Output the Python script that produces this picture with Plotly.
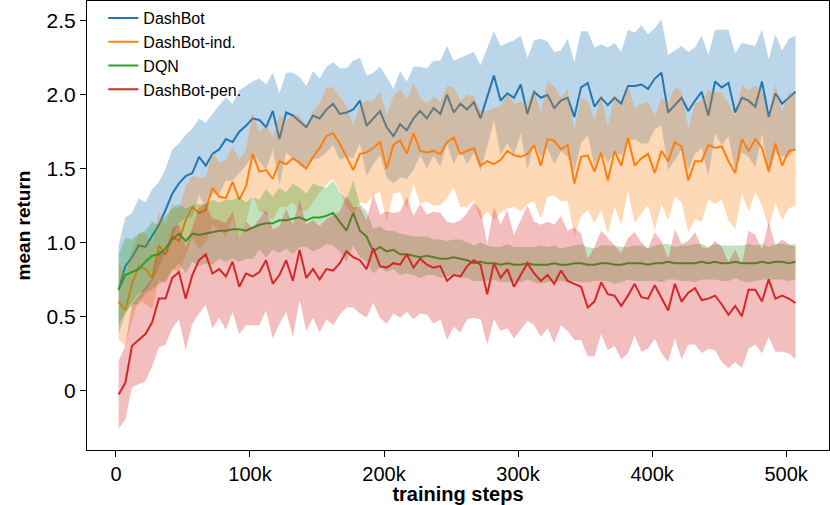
import plotly.graph_objects as go

# training steps (every 5k, from 2k to 507k)
steps = list(range(2000, 507001, 5000))

dashbot_mean = [
    0.68, 0.84, 0.90, 0.98, 0.97, 1.05, 1.12, 1.22, 1.33, 1.40,
    1.45, 1.47, 1.58, 1.52, 1.60, 1.63, 1.70, 1.68, 1.75, 1.79,
    1.84, 1.83, 1.78, 1.89, 1.70, 1.88, 1.86, 1.82, 1.78, 1.86,
    1.84, 1.90, 1.94, 1.87, 1.88, 1.90, 1.96, 1.79, 1.84, 1.89,
    1.78, 1.72, 1.80, 1.76, 1.84, 1.89, 1.84, 1.91, 1.87, 2.00,
    1.88, 1.94, 1.90, 1.95, 1.84, 1.98, 2.13, 1.96, 2.01, 1.98,
    2.07, 1.87, 2.02, 1.98, 2.00, 1.91, 1.96, 1.98, 1.85, 2.05,
    2.08, 1.92, 1.98, 1.93, 1.98, 1.94, 2.06, 2.06, 2.07, 2.04,
    2.11, 2.15, 1.88, 1.93, 1.98, 1.89, 1.96, 2.02, 1.86, 2.09,
    2.05, 2.08, 1.88, 1.98, 1.96, 1.92, 2.09, 1.85, 2.01, 1.94,
    1.98, 2.02,
]
dashbot_sd = [
    0.30, 0.33, 0.30, 0.32, 0.30, 0.31, 0.29, 0.28, 0.30, 0.27,
    0.28, 0.30, 0.26, 0.29, 0.27, 0.30, 0.28, 0.26, 0.28, 0.27,
    0.25, 0.28, 0.29, 0.26, 0.31, 0.27, 0.29, 0.30, 0.28, 0.30,
    0.27, 0.29, 0.28, 0.31, 0.30, 0.33, 0.29, 0.34, 0.31, 0.30,
    0.34, 0.32, 0.36, 0.33, 0.35, 0.30, 0.34, 0.32, 0.36, 0.33,
    0.35, 0.31, 0.37, 0.34, 0.36, 0.33, 0.30, 0.37, 0.34, 0.39,
    0.33, 0.38, 0.35, 0.40, 0.36, 0.38, 0.34, 0.40, 0.37, 0.38,
    0.35, 0.40, 0.36, 0.39, 0.37, 0.35, 0.38, 0.36, 0.40, 0.37,
    0.34, 0.36, 0.39, 0.37, 0.35, 0.40, 0.36, 0.38, 0.41, 0.35,
    0.39, 0.36, 0.40, 0.37, 0.38, 0.41, 0.35, 0.39, 0.40, 0.36,
    0.40, 0.38,
]

ind_mean = [
    0.60, 0.54, 0.72, 0.84, 0.82, 0.76, 0.98, 0.92, 1.04, 1.01,
    1.15, 1.24, 1.20, 1.22, 1.37, 1.31, 1.30, 1.41, 1.29, 1.38,
    1.60, 1.48, 1.49, 1.43, 1.55, 1.53, 1.57, 1.54, 1.50, 1.58,
    1.64, 1.72, 1.74, 1.67, 1.58, 1.49, 1.60, 1.61, 1.64, 1.68,
    1.50, 1.66, 1.69, 1.60, 1.74, 1.62, 1.61, 1.62, 1.60, 1.68,
    1.71, 1.60, 1.62, 1.64, 1.52, 1.55, 1.53, 1.56, 1.62, 1.59,
    1.58, 1.60, 1.66, 1.52, 1.70, 1.69, 1.63, 1.66, 1.40, 1.58,
    1.59, 1.48, 1.61, 1.42, 1.62, 1.52, 1.71, 1.52, 1.57, 1.60,
    1.47, 1.62, 1.55, 1.68, 1.65, 1.42, 1.55, 1.55, 1.66, 1.64,
    1.65, 1.55, 1.47, 1.70, 1.62, 1.70, 1.64, 1.48, 1.67, 1.52,
    1.62, 1.63,
]
ind_sd = [
    0.26, 0.24, 0.25, 0.22, 0.24, 0.21, 0.23, 0.20, 0.22, 0.21,
    0.23, 0.21, 0.24, 0.22, 0.25, 0.23, 0.26, 0.24, 0.27, 0.25,
    0.28, 0.27, 0.30, 0.28, 0.31, 0.29, 0.30, 0.32, 0.29, 0.31,
    0.30, 0.33, 0.31, 0.32, 0.34, 0.30, 0.33, 0.35, 0.32, 0.34,
    0.36, 0.33, 0.35, 0.37, 0.34, 0.36, 0.33, 0.37, 0.35, 0.38,
    0.34, 0.36, 0.38, 0.35, 0.37, 0.34, 0.38, 0.36, 0.39, 0.35,
    0.37, 0.34, 0.38, 0.36, 0.39, 0.37, 0.35, 0.38, 0.36, 0.40,
    0.37, 0.35, 0.39, 0.36, 0.38, 0.40, 0.36, 0.39, 0.37, 0.35,
    0.39, 0.36, 0.40, 0.37, 0.38, 0.35, 0.39, 0.41, 0.37, 0.38,
    0.36, 0.40, 0.38, 0.37, 0.41, 0.36, 0.39, 0.38, 0.40, 0.37,
    0.39, 0.38,
]

dqn_mean = [
    0.68, 0.78, 0.80, 0.82, 0.87, 0.91, 0.92, 0.96, 1.02, 1.06,
    1.01, 1.06, 1.05, 1.06, 1.07, 1.08, 1.08, 1.09, 1.09, 1.08,
    1.10, 1.12, 1.13, 1.13, 1.15, 1.15, 1.16, 1.17, 1.15, 1.17,
    1.17, 1.18, 1.20, 1.14, 1.08, 1.20, 1.08, 1.04, 0.94, 0.97,
    0.94, 0.95, 0.92, 0.92, 0.91, 0.90, 0.91, 0.90, 0.89, 0.89,
    0.90, 0.89, 0.88, 0.86, 0.87, 0.86, 0.86, 0.85, 0.86, 0.85,
    0.85, 0.86, 0.85, 0.85, 0.85, 0.86, 0.85, 0.85, 0.86, 0.86,
    0.85, 0.85, 0.86, 0.86, 0.85, 0.85, 0.86, 0.86, 0.86, 0.85,
    0.86, 0.86, 0.87, 0.86, 0.86, 0.86, 0.86, 0.87, 0.86, 0.87,
    0.86, 0.86, 0.87, 0.86, 0.86, 0.86, 0.87, 0.86, 0.87, 0.87,
    0.86, 0.87,
]
dqn_sd = [
    0.24, 0.25, 0.22, 0.24, 0.21, 0.23, 0.20, 0.22, 0.21, 0.20,
    0.22, 0.19, 0.21, 0.20, 0.22, 0.19, 0.21, 0.20, 0.22, 0.19,
    0.21, 0.17, 0.23, 0.18, 0.22, 0.19, 0.24, 0.20, 0.18, 0.23,
    0.21, 0.19, 0.22, 0.20, 0.21, 0.22, 0.18, 0.17, 0.15, 0.14,
    0.14, 0.13, 0.14, 0.13, 0.13, 0.14, 0.13, 0.12, 0.13, 0.12,
    0.12, 0.13, 0.12, 0.12, 0.13, 0.12, 0.11, 0.12, 0.13, 0.12,
    0.12, 0.11, 0.12, 0.13, 0.12, 0.12, 0.11, 0.12, 0.12, 0.13,
    0.12, 0.11, 0.12, 0.12, 0.13, 0.12, 0.11, 0.12, 0.12, 0.11,
    0.12, 0.13, 0.12, 0.11, 0.12, 0.12, 0.13, 0.12, 0.11, 0.12,
    0.12, 0.12, 0.11, 0.12, 0.13, 0.12, 0.12, 0.11, 0.12, 0.12,
    0.12, 0.12,
]

pen_mean = [
    -0.03, 0.05, 0.30, 0.34, 0.38, 0.46, 0.62, 0.62, 0.76, 0.80,
    0.62, 0.78, 0.88, 0.92, 0.79, 0.82, 0.77, 0.87, 0.70, 0.79,
    0.77, 0.80, 0.88, 0.72, 0.78, 0.88, 0.74, 0.95, 0.76, 0.82,
    0.75, 0.82, 0.81, 0.86, 0.94, 0.90, 0.88, 0.82, 0.96, 0.84,
    0.83, 0.86, 0.85, 0.92, 0.83, 0.89, 0.85, 0.83, 0.84, 0.74,
    0.78, 0.77, 0.84, 0.88, 0.85, 0.65, 0.86, 0.76, 0.82, 0.70,
    0.78, 0.86, 0.79, 0.74, 0.78, 0.72, 0.81, 0.74, 0.72, 0.70,
    0.56, 0.60, 0.73, 0.65, 0.64, 0.57, 0.64, 0.72, 0.63, 0.62,
    0.71, 0.63, 0.54, 0.72, 0.60, 0.66, 0.69, 0.61, 0.62, 0.64,
    0.58, 0.51, 0.57, 0.50, 0.68, 0.68, 0.60, 0.75, 0.62, 0.64,
    0.62, 0.59,
]
pen_sd = [
    0.23, 0.25, 0.28, 0.30, 0.32, 0.30, 0.33, 0.31, 0.34, 0.32,
    0.35, 0.33, 0.36, 0.34, 0.37, 0.33, 0.36, 0.34, 0.32, 0.35,
    0.33, 0.36, 0.34, 0.37, 0.33, 0.35, 0.38, 0.34, 0.36, 0.33,
    0.36, 0.34, 0.37, 0.35, 0.38, 0.34, 0.36, 0.33, 0.37, 0.35,
    0.38, 0.34, 0.36, 0.39, 0.35, 0.37, 0.34, 0.38, 0.36, 0.40,
    0.35, 0.38, 0.36, 0.39, 0.37, 0.34, 0.38, 0.36, 0.40, 0.35,
    0.37, 0.39, 0.35, 0.38, 0.36, 0.40, 0.37, 0.34, 0.38, 0.36,
    0.33, 0.37, 0.35, 0.38, 0.34, 0.36, 0.39, 0.35, 0.37, 0.34,
    0.36, 0.38, 0.35, 0.37, 0.39, 0.35, 0.38, 0.36, 0.34, 0.37,
    0.39, 0.36, 0.38, 0.35, 0.40, 0.37, 0.35, 0.39, 0.36, 0.38,
    0.37, 0.38,
]

series = [
    ("DashBot", dashbot_mean, dashbot_sd, (31, 119, 180)),
    ("DashBot-ind.", ind_mean, ind_sd, (255, 127, 14)),
    ("DQN", dqn_mean, dqn_sd, (44, 160, 44)),
    ("DashBot-pen.", pen_mean, pen_sd, (214, 39, 40)),
]

fig = go.Figure()
for name, mean, sd, (r, g, b) in series:
    upper = [m + s for m, s in zip(mean, sd)]
    lower = [m - s for m, s in zip(mean, sd)]
    # shaded band first, then the mean line (so later bands tint earlier lines)
    fig.add_trace(go.Scatter(
        x=steps + steps[::-1], y=upper + lower[::-1],
        fill="toself", fillcolor=f"rgba({r},{g},{b},0.3)",
        line=dict(width=0), mode="lines", hoverinfo="skip", showlegend=False,
    ))
    fig.add_trace(go.Scatter(
        x=steps, y=mean, mode="lines", name=name, legendgroup=name,
        line=dict(color=f"rgb({r},{g},{b})", width=2),
    ))

axis_common = dict(
    showline=True, linecolor="black", linewidth=1.2, mirror=True,
    ticks="outside", ticklen=6, tickwidth=1.2, tickcolor="black",
    showgrid=False, zeroline=False, automargin=False,
)
fig.update_xaxes(
    range=[-21600, 532000],
    tickvals=[0, 100000, 200000, 300000, 400000, 500000],
    ticktext=["0", "100k", "200k", "300k", "400k", "500k"],
    tickfont=dict(family="Liberation Sans, Arial", size=20, color="black"),
    title=dict(text="<b>training steps</b>", standoff=2,
               font=dict(family="Liberation Sans, Arial", size=20, color="black")),
    **axis_common,
)
fig.update_yaxes(
    range=[-0.405, 2.635],
    tickvals=[0, 0.5, 1.0, 1.5, 2.0, 2.5],
    ticktext=["0", "0.5", "1.0", "1.5", "2.0", "2.5"],
    tickfont=dict(family="Liberation Sans, Arial", size=21, color="black"),
    title=dict(text="<b>mean return</b>", standoff=10,
               font=dict(family="Liberation Sans, Arial", size=19, color="black")),
    **axis_common,
)
fig.update_layout(
    width=830, height=505,
    margin=dict(l=87, r=1, t=1, b=55),
    plot_bgcolor="white", paper_bgcolor="white",
    legend=dict(x=0.022, y=1.0, xanchor="left", yanchor="top",
                bgcolor="rgba(0,0,0,0)", tracegroupgap=0,
                font=dict(family="Liberation Sans, Arial", size=16, color="black")),
)

# drop the default 8px page margin so the 830x505 figure fills the window
fig.write_html("out.html", config={"displayModeBar": False},
               post_script="document.body.style.margin='0';")
